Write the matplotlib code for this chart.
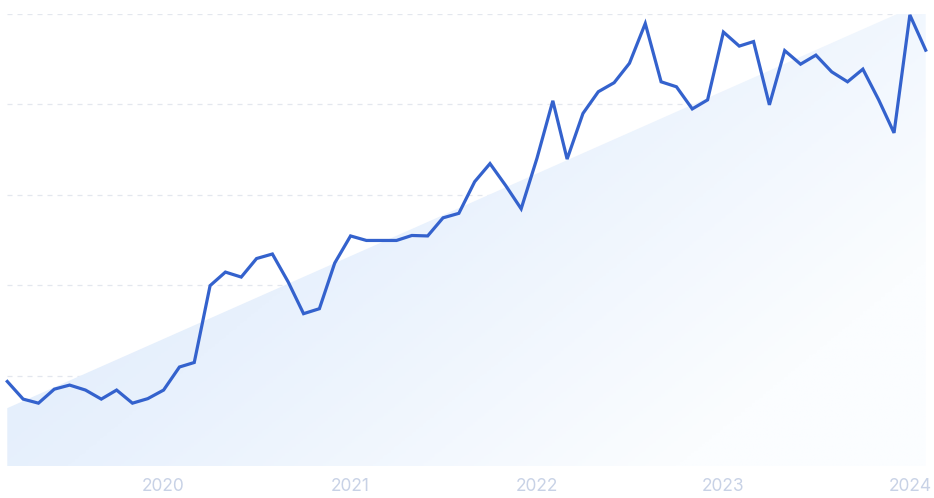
import numpy as np
import pandas as pd
import matplotlib
matplotlib.use("Agg")
import matplotlib.pyplot as plt
import matplotlib.dates as mdates
from matplotlib.patches import Polygon
from matplotlib.colors import LinearSegmentedColormap

# monthly values, Mar 2019 .. Feb 2024 (relative index, 0-100)
months = pd.date_range("2019-03-01", periods=60, freq="MS")
values = [18.7, 14.8, 13.9, 17.0, 17.9, 16.8, 14.8, 16.8, 13.9, 14.9,
          16.8, 21.9, 22.9, 39.9, 42.9, 41.8, 45.9, 46.9, 40.7, 33.7,
          34.8, 44.9, 50.9, 49.9, 49.9, 49.9, 51.0, 50.9, 54.9, 55.9,
          62.9, 66.9, 62.0, 56.9, 68.1, 80.8, 67.9, 78.0, 82.8, 84.8,
          89.1, 97.9, 85.0, 83.9, 79.0, 81.0, 96.0, 92.9, 93.9, 79.9,
          91.9, 88.9, 90.9, 87.2, 85.0, 87.8, 81.0, 73.7, 99.8, 92.0]
trend_start = 12.8
trend_end = 102.8
grid_levels = [20, 40, 60, 80, 100]
tick_years = ["2020", "2021", "2022", "2023", "2024"]

line_color = "#3462cd"
label_color = "#c8d2e6"

fig = plt.figure(figsize=(9.34, 4.98), dpi=100)
ax = fig.add_axes([7.3 / 934, 32 / 498, 918.4 / 934, 452 / 498])

x = mdates.date2num(months)
ax.set_xlim(x[0], x[-1])
ax.set_ylim(0, 100)

# gradient trend area
grad = np.linspace(0, 1, 256)
gx, gy = np.meshgrid(grad, grad)
mix = np.clip(0.75 * gx + 0.45 * (1 - gy), 0, 1)
cmap = LinearSegmentedColormap.from_list("fade", ["#dae8fb", "#e8f1fd", "#fbfdff"])
img = ax.imshow(mix, cmap=cmap, extent=[x[0], x[-1], 0, 100], origin="lower",
                aspect="auto", zorder=1, vmin=0, vmax=1)
poly = Polygon([[x[0], 0], [x[0], trend_start], [x[-1], trend_end], [x[-1], 0]],
               closed=True, transform=ax.transData, facecolor="none", edgecolor="none")
ax.add_patch(poly)
img.set_clip_path(poly)

for g in grid_levels:
    ax.axhline(g, color="#e3e7ee", lw=0.9, ls=(0, (4, 4)), zorder=0.5)

ax.plot(x, values, color=line_color, lw=2.3, zorder=3, clip_on=False,
        solid_joinstyle="miter")

ticks = [mdates.date2num(pd.Timestamp(y + "-01-01")) for y in tick_years]
ax.set_xticks(ticks)
ax.set_xticklabels(tick_years, color=label_color, fontsize=12.5, family="Inter")
ax.tick_params(axis="x", length=0, pad=8.5)
ax.set_yticks([])
for s in ax.spines.values():
    s.set_visible(False)

fig.savefig("out.png", dpi=100)
